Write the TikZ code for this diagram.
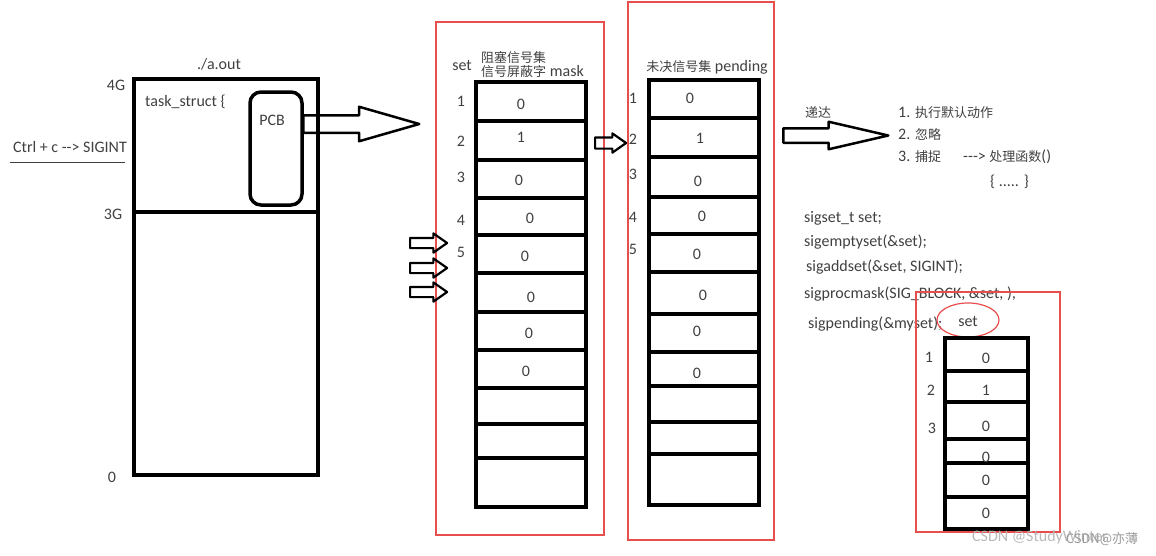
\documentclass[tikz,border=0pt]{standalone}
\usepackage{fontspec}
\setmainfont{Carlito}
\newfontfamily\cjk{Noto Sans CJK SC}
\usetikzlibrary{shapes.arrows}
\definecolor{boxred}{RGB}{232,78,78}
\definecolor{txt}{RGB}{64,64,64}
\newcommand\zhtxt[1]{{\fontsize{13}{15}\cjk #1}}
\begin{document}
\begin{tikzpicture}[x=1pt,y=-1pt,
    lbl/.style={text=txt,font=\fontsize{16}{18}\selectfont,inner sep=0pt},
    cell/.style={line width=3.5pt},
    redbox/.style={draw=boxred,line width=1.6pt},
    fat/.style={single arrow,draw,line width=2.5pt,inner xsep=0pt,anchor=tail,line join=round}]
    \useasboundingbox (0,0) rectangle (1156,555);
    % process address space
    \draw[line width=3.5pt] (134,79) rectangle (318,475);
    \draw[line width=3.5pt] (132,212) -- (320,212);
    \node[lbl] (aout) at (219,64) {./a.out};
    \node[lbl] (g4) at (116,85) {4G};
    \node[lbl] (g3) at (113,214) {3G};
    \node[lbl] (g0) at (112,477) {0};
    \node[lbl,anchor=west] (task) at (145,102) {task\_struct \{};
    \node[draw,line width=3.5pt,rounded corners=11pt,minimum width=52,minimum height=113] (pcb) at (276,148.5) {};
    \node[lbl] (pcbtxt) at (272,120) {PCB};
    \node[lbl] (ctrl) at (70,147) {Ctrl + c -{}-{}> SIGINT};
    \draw[txt,line width=0.8pt] (10,162) -- (125,162);
    \coordinate (pcbout) at (302,124);
    \node[fat,minimum height=116,inner ysep=7.5pt,single arrow head extend=8.5pt,single arrow tip angle=32] (sendarrow) at (pcbout) {};
    % blocked set (mask)
    \draw[redbox] (436,22) rectangle (604,535);
    \node[lbl] (maskset) at (462,65) {set};
    \node[lbl,anchor=west] (maskzh) at (481,58) {\zhtxt{阻塞信号集}};
    \node[lbl,anchor=west] (masklbl) at (481,71) {\zhtxt{信号屏蔽字} mask};
    \foreach \a/\b in {82/121,121/160,160/198,198/235,235/273,273/312,312/350,350/388,388/424,424/458,458/507}
        \draw[cell] (476,\a) rectangle (586,\b);
    \foreach \px/\py/\v [count=\i] in {521/104/0,521/137/1,519/180/0,530/218/0,525/256/0,531/297/0,529/333/0,526/371/0}
        \node[lbl] (mv\i) at (\px,\py) {\v};
    \foreach \py [count=\i] in {101,141,177,220,252}
        \node[lbl] (mn\i) at (461,\py) {\i};
    \foreach \py [count=\i] in {243,268,292}
        \node[fat,line width=2.2pt,minimum height=37,inner ysep=4pt,single arrow head extend=4.5pt,single arrow tip angle=70] (sig\i) at (409,\py) {};
    \node[fat,line width=2.2pt,minimum height=31,inner ysep=4.5pt,single arrow head extend=4pt,single arrow tip angle=70] (toarrow) at (594,143) {};
    % pending set
    \draw[redbox] (628,2) rectangle (774,540);
    \node[lbl] (pendlbl) at (707,67) {\zhtxt{未决信号集} pending};
    \foreach \a/\b in {80/118,118/157,157/197,197/234,234/272,272/314,314/352,352/386,386/422,422/454,454/505}
        \draw[cell] (649,\a) rectangle (759,\b);
    \foreach \px/\py/\v [count=\i] in {690/98/0,700/138/1,698/181/0,702/216/0,697/254/0,703/295/0,697/331/0,697/373/0}
        \node[lbl] (pv\i) at (\px,\py) {\v};
    \foreach \py [count=\i] in {98,139,174,217,249}
        \node[lbl] (pn\i) at (633,\py) {\i};
    % delivery
    \node[lbl] (deliver) at (818,112) {\zhtxt{递达}};
    \node[fat,minimum height=105,inner ysep=6pt,single arrow head extend=6.5pt,single arrow tip angle=26] (delarrow) at (782,135.5) {};
    \node[lbl,anchor=west] (act1) at (898,113) {1. \zhtxt{执行默认动作}};
    \node[lbl,anchor=west] (act2) at (898,134) {2. \zhtxt{忽略}};
    \node[lbl,anchor=west] (act3) at (898,157) {3. \zhtxt{捕捉}};
    \node[lbl,anchor=west] (handler) at (963,157) {-{}-{}-{}> \zhtxt{处理函数}()};
    \node[lbl,anchor=west] (body) at (990,182) {\{ ..... \}};
    % code
    \node[lbl,anchor=west] (c1) at (804,218) {sigset\_t set;};
    \node[lbl,anchor=west] (c2) at (804,242) {sigemptyset(\&set);};
    \node[lbl,anchor=west] (c3) at (806,267) {sigaddset(\&set, SIGINT);};
    \node[lbl,anchor=west] (c4) at (804,294) {sigprocmask(SIG\_BLOCK, \&set, );};
    \node[lbl,anchor=west] (c5) at (808,324) {sigpending(\&myset);};
    % result set
    \draw[redbox] (916,292) rectangle (1060,532);
    \draw[boxred,line width=1.2pt] (968,320) ellipse (31 and 17);
    \node[lbl] (myset) at (968,321) {set};
    \foreach \a/\b in {338/371,371/402,402/439,439/463,463/497,497/529}
        \draw[cell] (945,\a) rectangle (1028,\b);
    \foreach \py/\v [count=\i] in {358/0,390/1,426/0,457/0,480/0,513/0}
        \node[lbl] (sv\i) at (986,\py) {\v};
    \foreach \px/\py [count=\i] in {929/357,931/390,932/428}
        \node[lbl] (sn\i) at (\px,\py) {\i};
    % watermark
    \node[lbl,text=gray!55,font=\fontsize{16}{18}\selectfont] (wm1) at (1040,537) {CSDN @StudyWinter};
    \node[lbl,text=gray!80,font=\fontsize{13}{15}\cjk] (wm2) at (1102,539) {CSDN@亦薄};
\end{tikzpicture}
\end{document}
